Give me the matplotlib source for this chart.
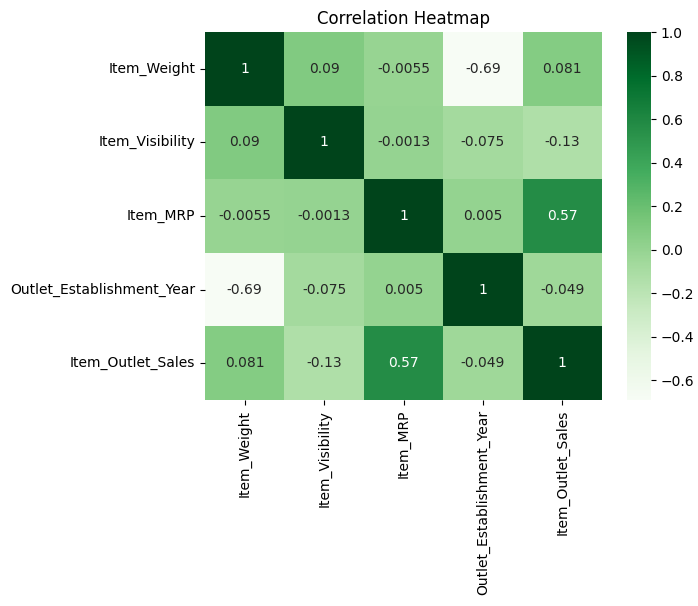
import matplotlib
matplotlib.use("Agg")
import matplotlib.pyplot as plt
import seaborn as sns
import numpy as np
import pandas as pd

# columnas de la matriz de correlacion
columnas = ["Item_Weight", "Item_Visibility", "Item_MRP",
            "Outlet_Establishment_Year", "Item_Outlet_Sales"]

fila_weight = [1, 0.09, -0.0055, -0.69, 0.081]
fila_visibility = [0.09, 1, -0.0013, -0.075, -0.13]
fila_mrp = [-0.0055, -0.0013, 1, 0.005, 0.57]
fila_year = [-0.69, -0.075, 0.005, 1, -0.049]
fila_sales = [0.081, -0.13, 0.57, -0.049, 1]

corr = pd.DataFrame([fila_weight, fila_visibility, fila_mrp, fila_year, fila_sales],
                    index=columnas, columns=columnas)

fig = plt.figure(figsize=(6.98, 6.06), dpi=100)
ax = fig.add_axes([205 / 698, 1 - 400 / 606, 397 / 698, 368 / 606])
cax = fig.add_axes([627 / 698, 1 - 400 / 606, 24 / 698, 368 / 606])

sns.heatmap(corr, annot=True, cmap="Greens", ax=ax, cbar_ax=cax)
ax.set_title("Correlation Heatmap")

fig.savefig("out.png", dpi=100)
